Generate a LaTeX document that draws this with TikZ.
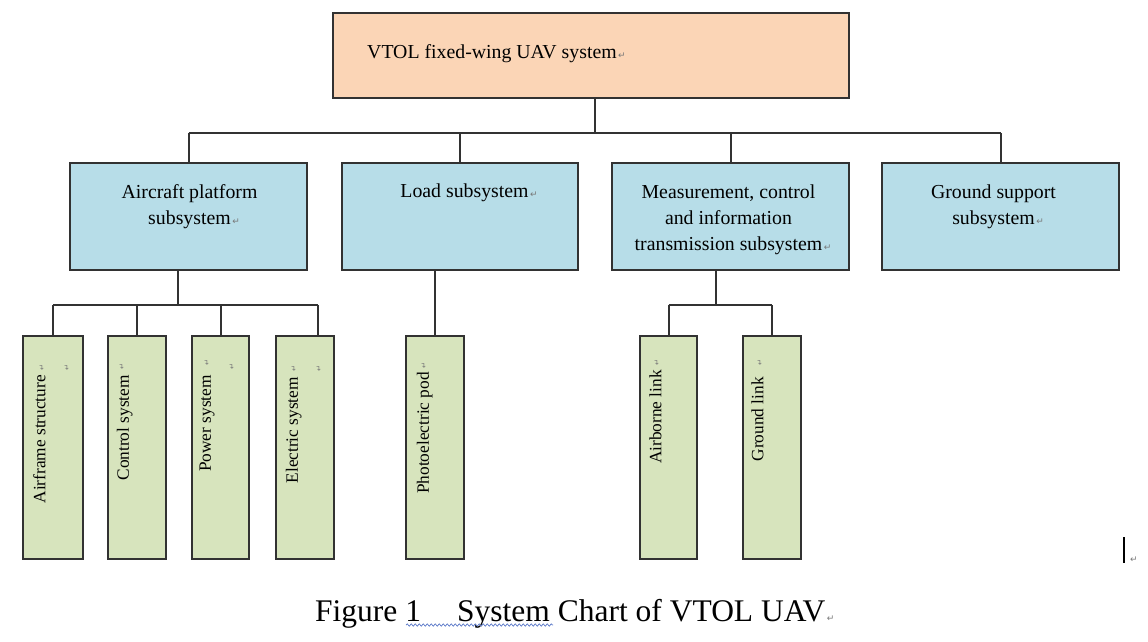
\documentclass[tikz,border=0pt]{standalone}
\usepackage{fontspec}
\setmainfont{Liberation Serif}
\newfontfamily\symfont{DejaVu Sans}
\usetikzlibrary{decorations.pathmorphing}
\definecolor{peach}{RGB}{251,213,182}
\definecolor{aqua}{RGB}{183,221,232}
\definecolor{olive}{RGB}{215,228,189}
\definecolor{edge}{RGB}{50,50,50}
\definecolor{markgray}{RGB}{120,120,120}
\definecolor{squig}{RGB}{90,120,200}
\tikzset{
  box/.style={draw=edge, line width=2.2pt, inner sep=0pt},
  topbox/.style={box, fill=peach},
  midbox/.style={box, fill=aqua, minimum height=107pt},
  leafbox/.style={box, fill=olive, minimum height=223pt},
  conn/.style={draw=edge, line width=2pt},
  lbl/.style={inner sep=0pt, font=\fontsize{19.8}{26}\selectfont},
  vlbl/.style={inner sep=0pt, rotate=90, anchor=mid east, font=\fontsize{17.3}{20}\selectfont},
  captxt/.style={inner sep=0pt, anchor=base west, font=\fontsize{31.5}{36}\selectfont},
  pmark/.style={inner sep=0pt, text=markgray, font=\symfont\fontsize{9}{10}\selectfont},
  vmark/.style={pmark, rotate=90, font=\symfont\fontsize{7.5}{8}\selectfont}
}
\newcommand{\parmark}{\textcolor{markgray}{\symfont\fontsize{9}{10}\selectfont\,↵}}
\begin{document}
\begin{tikzpicture}[x=1pt,y=-1pt]
\useasboundingbox (0,0) rectangle (1148,642);
% top
\node[topbox, minimum width=516pt, minimum height=85pt] (top) at (591,55.5) {};
\node[lbl, anchor=base west] (toptxt) at (367,59) {VTOL fixed-wing UAV system\rlap{\parmark}};
% level 2
\node[midbox, minimum width=237pt] (l2a) at (188.5,216.5) {};
\node[midbox, minimum width=236pt] (l2b) at (460,216.5) {};
\node[midbox, minimum width=237pt] (l2c) at (730.5,216.5) {};
\node[midbox, minimum width=237pt] (l2d) at (1000.5,216.5) {};
\node[lbl, anchor=base] (l2a1) at (189.5,198) {Aircraft platform};
\node[lbl, anchor=base] (l2a2) at (189.5,224) {subsystem\rlap{\parmark}};
\node[lbl, anchor=base] (l2b1) at (464.5,197) {Load subsystem\rlap{\parmark}};
\node[lbl, anchor=base] (l2c1) at (728.5,198) {Measurement, control};
\node[lbl, anchor=base] (l2c2) at (728.5,224) {and information};
\node[lbl, anchor=base] (l2c3) at (728.5,250) {transmission subsystem\rlap{\parmark}};
\node[lbl, anchor=base] (l2d1) at (993.5,198) {Ground support};
\node[lbl, anchor=base] (l2d2) at (993.5,224) {subsystem\rlap{\parmark}};
% level 3
\node[leafbox, minimum width=60pt] (l3a) at (53,447.5) {};
\node[leafbox, minimum width=58pt] (l3b) at (137,447.5) {};
\node[leafbox, minimum width=57pt] (l3c) at (220.5,447.5) {};
\node[leafbox, minimum width=58pt] (l3d) at (305,447.5) {};
\node[leafbox, minimum width=58pt] (l3e) at (435,447.5) {};
\node[leafbox, minimum width=57pt] (l3f) at (668.5,447.5) {};
\node[leafbox, minimum width=58pt] (l3g) at (772,447.5) {};
\node[vlbl] (t3a) at (43,375) {Airframe structure};
\node[vlbl] (t3b) at (126.5,375) {Control system};
\node[vlbl] (t3c) at (208.5,375) {Power system};
\node[vlbl] (t3d) at (295.5,377) {Electric system};
\node[vlbl] (t3e) at (426.5,372) {Photoelectric pod};
\node[vlbl] (t3f) at (659,370) {Airborne link};
\node[vlbl] (t3g) at (761,377) {Ground link};
% paragraph marks in leaf boxes
\node[vmark] (m1) at (42,367) {↵};
\node[vmark] (m2) at (67,367) {↵};
\node[vmark] (m3) at (122,366) {↵};
\node[vmark] (m4) at (207,362) {↵};
\node[vmark] (m5) at (232,366) {↵};
\node[vmark] (m6) at (294,368) {↵};
\node[vmark] (m7) at (319,368) {↵};
\node[vmark] (m8) at (424,365) {↵};
\node[vmark] (m9) at (657,362) {↵};
\node[vmark] (m10) at (760,362) {↵};
% connectors level 1 -> 2
\coordinate (bus1) at (0,133);
\draw[conn] ([xshift=4pt]top.south) -- ([xshift=4pt]top.south |- bus1);
\draw[conn] (l2a.north |- bus1) -- (l2d.north |- bus1);
\draw[conn] (l2a.north) -- (l2a.north |- bus1);
\draw[conn] (l2b.north) -- (l2b.north |- bus1);
\draw[conn] (l2c.north) -- (l2c.north |- bus1);
\draw[conn] (l2d.north) -- (l2d.north |- bus1);
% connectors level 2 -> 3
\coordinate (bus2) at (0,305);
\draw[conn] ([xshift=-10.5pt]l2a.south) -- ([xshift=-10.5pt]l2a.south |- bus2);
\draw[conn] (l3a.north |- bus2) -- ([xshift=13pt]l3d.north |- bus2);
\draw[conn] (l3a.north) -- (l3a.north |- bus2);
\draw[conn] (l3b.north) -- (l3b.north |- bus2);
\draw[conn] (l3c.north) -- (l3c.north |- bus2);
\draw[conn] ([xshift=13pt]l3d.north) -- ([xshift=13pt]l3d.north |- bus2);
\draw[conn] (l3e.north) -- (l3e.north |- l2b.south);
\draw[conn] ([xshift=-14.5pt]l2c.south) -- ([xshift=-14.5pt]l2c.south |- bus2);
\draw[conn] (l3f.north |- bus2) -- (l3g.north |- bus2);
\draw[conn] (l3f.north) -- (l3f.north |- bus2);
\draw[conn] (l3g.north) -- (l3g.north |- bus2);
% caption
\node[captxt] (fig) at (315,621) {Figure 1};
\node[captxt] (title) at (457,621) {System Chart of VTOL UAV\rlap{\parmark}};
\coordinate (sq1) at (406,625);
\coordinate (sq2) at (553,625);
\draw[squig, line width=0.7pt, decorate, decoration={snake, amplitude=1.2pt, segment length=4pt}] (sq1) -- (sq2);
% cursor
\coordinate (cur1) at (1124,537);
\coordinate (cur2) at (1124,563);
\draw[black, line width=1.2pt] (cur1) -- (cur2);
\node[pmark] (curmark) at (1134,560) {↵};
\end{tikzpicture}
\end{document}
